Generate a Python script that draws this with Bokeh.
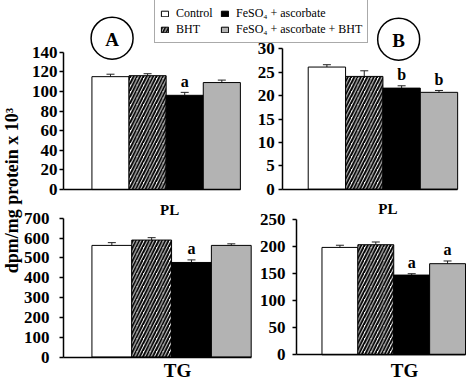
import math
from bokeh.plotting import figure
from bokeh.models import (Range1d, LinearAxis, FixedTicker, ColumnDataSource, Whisker,
                          TeeHead, Legend, LegendItem)
from bokeh.core.properties import value
from bokeh.embed import file_html
from bokeh.resources import INLINE

# ---------------- data ----------------
groups = ["Control", "BHT", "FeSO₄ + ascorbate", "FeSO₄ + ascorbate + BHT"]
bar_colors = ["white", "white", "black", "#b3b3b3"]
bar_hatches = ["blank", "/", "blank", "blank"]

pl_a = [115, 116, 96, 109]
pl_a_err = [2.5, 2, 3, 2.5]
pl_a_sig = ["", "", "a", ""]
pl_a_ticks = [0, 20, 40, 60, 80, 100, 120, 140]

pl_b = [26.1, 24.1, 21.6, 20.7]
pl_b_err = [0.5, 1.2, 0.5, 0.4]
pl_b_sig = ["", "", "b", "b"]
pl_b_ticks = [0, 5, 10, 15, 20, 25, 30]

tg_a = [563, 590, 477, 563]
tg_a_err = [14, 12, 13, 8]
tg_a_sig = ["", "", "a", ""]
tg_a_ticks = [0, 100, 200, 300, 400, 500, 600, 700]

tg_b = [198, 203, 147, 168]
tg_b_err = [4, 5, 2.5, 5]
tg_b_sig = ["", "", "a", "a"]
tg_b_ticks = [0, 50, 100, 150, 200, 250]

panel_letters = ["A", "B"]
y_title = "dpm/mg protein x 10³"

# ---------------- layout (reference pixel grid) ----------------
REF_W, REF_H = 474, 390
W, H = 466, 382
SERIF = value("Liberation Serif")

panels = [
    dict(name="pa", vals=pl_a, err=pl_a_err, sig=pl_a_sig, ticks=pl_a_ticks, cat="PL",
         axis_x=64, bar_l=93, bar_r=244, y0=193, ytop=52.7, cat_x=172, cat_size="15px",
         cat_standoff=12, lab_standoff=2),
    dict(name="pb", vals=pl_b, err=pl_b_err, sig=pl_b_sig, ticks=pl_b_ticks, cat="PL",
         axis_x=287, bar_l=313, bar_r=465, y0=192.7, ytop=49.3, cat_x=394, cat_size="15px",
         cat_standoff=12, lab_standoff=4),
    dict(name="ta", vals=tg_a, err=tg_a_err, sig=tg_a_sig, ticks=tg_a_ticks, cat="TG",
         axis_x=64, bar_l=93, bar_r=255, y0=364, ytop=222.3, cat_x=180, cat_size="19px",
         cat_standoff=3, lab_standoff=10),
    dict(name="tb", vals=tg_b, err=tg_b_err, sig=tg_b_sig, ticks=tg_b_ticks, cat="TG",
         axis_x=301, bar_l=327, bar_r=473, y0=361.7, ytop=223.3, cat_x=411, cat_size="19px",
         cat_standoff=5, lab_standoff=7),
]

p = figure(width=W, height=H, output_backend="svg", toolbar_location=None,
           x_axis_type=None, y_axis_type=None, min_border=0,
           x_range=Range1d(0, REF_W), y_range=Range1d(REF_H, 0))
p.outline_line_color = None
p.background_fill_color = "white"
p.border_fill_color = "white"

legend_renderer = None
for pn in panels:
    n = len(pn["vals"])
    bw = (pn["bar_r"] - pn["bar_l"]) / n
    xname, yname = "x_" + pn["name"], "y_" + pn["name"]
    ymax = pn["ticks"][-1]
    k = (pn["y0"] - pn["ytop"]) / ymax
    p.extra_x_ranges[xname] = Range1d((0 - pn["bar_l"]) / bw, (REF_W - pn["bar_l"]) / bw)
    p.extra_y_ranges[yname] = Range1d((pn["y0"] - REF_H) / k, pn["y0"] / k)

    xs = [i + 0.5 for i in range(n)]
    upper = [v + e for v, e in zip(pn["vals"], pn["err"])]
    src = ColumnDataSource(dict(x=xs, top=pn["vals"], upper=upper, sig=pn["sig"],
                                color=bar_colors, hatch=bar_hatches, group=groups))
    r = p.vbar(x="x", top="top", bottom=0, width=1, source=src,
               fill_color="color", hatch_pattern="hatch", hatch_color="black",
               hatch_scale=6.5, hatch_weight=2, line_color="black", line_width=1,
               x_range_name=xname, y_range_name=yname)
    if legend_renderer is None:
        legend_renderer = r

    wh = Whisker(base="x", lower="top", upper="upper", source=src, dimension="height",
                 upper_head=TeeHead(size=8, line_width=1, line_color="#222222"),
                 lower_head=None, line_color="#222222", line_width=1,
                 x_range_name=xname, y_range_name=yname)
    p.add_layout(wh)

    p.text(x="x", y="upper", text="sig", source=src, y_offset=-11,
           text_align="center", text_baseline="alphabetic", text_font=SERIF,
           text_font_style="bold", text_font_size="16px", text_color="black",
           x_range_name=xname, y_range_name=yname)

    ax_x = (pn["axis_x"] - pn["bar_l"]) / bw
    yax = LinearAxis(x_range_name=xname, y_range_name=yname, fixed_location=ax_x,
                     bounds=(0, ymax), ticker=FixedTicker(ticks=pn["ticks"]))
    yax.axis_line_width = 1.5
    yax.major_tick_out = 4
    yax.major_tick_in = 0
    yax.minor_tick_out = 0
    yax.minor_tick_in = 0
    yax.major_tick_line_width = 1.5
    yax.major_label_standoff = pn["lab_standoff"]
    yax.major_label_text_font = "Liberation Serif"
    yax.major_label_text_font_style = "bold"
    yax.major_label_text_font_size = "17px"
    yax.major_label_text_color = "black"
    p.add_layout(yax, "left")

    cat_tick = (pn["cat_x"] - pn["bar_l"]) / bw
    xax = LinearAxis(x_range_name=xname, y_range_name=yname, fixed_location=0,
                     bounds=(ax_x, n), ticker=FixedTicker(ticks=[cat_tick]),
                     major_label_overrides={cat_tick: pn["cat"]})
    xax.axis_line_width = 1.5
    xax.major_tick_out = 0
    xax.major_tick_in = 0
    xax.minor_tick_out = 0
    xax.minor_tick_in = 0
    xax.major_label_standoff = pn["cat_standoff"]
    xax.major_label_text_font = "Liberation Serif"
    xax.major_label_text_font_style = "bold"
    xax.major_label_text_font_size = pn["cat_size"]
    xax.major_label_text_color = "black"
    p.add_layout(xax, "below")

# panel letters in circles
p.scatter(x=[113.5, 405], y=[38.5, 39.5], size=42, marker="circle",
          fill_color="white", line_color="black", line_width=1.5)
p.text(x=[113.5, 405], y=[39.5, 40.5], text=panel_letters, text_align="center",
       text_baseline="middle", text_font=SERIF, text_font_style="bold",
       text_font_size="19px", text_color="black")

# y axis title (shared)
p.text(x=[11.5], y=[194], text=[y_title], angle=math.pi / 2, text_align="center",
       text_baseline="middle", text_font=SERIF, text_font_style="bold",
       text_font_size="18px", text_color="black")

# legend
items = [LegendItem(label=g, renderers=[legend_renderer], index=i) for i, g in enumerate(groups)]
legend = Legend(items=items, location=(154, H - 43), orientation="vertical", nrows=2,
                padding=5, spacing=0, margin=0, label_standoff=7, glyph_width=9,
                glyph_height=7, label_height=16, label_width=44,
                label_text_font="Liberation Serif", label_text_font_size="12px",
                label_text_color="black", border_line_color="#555555",
                border_line_width=1.5, background_fill_color="white",
                background_fill_alpha=1.0)
p.add_layout(legend)

open("out.html", "w").write(file_html(p, INLINE))
